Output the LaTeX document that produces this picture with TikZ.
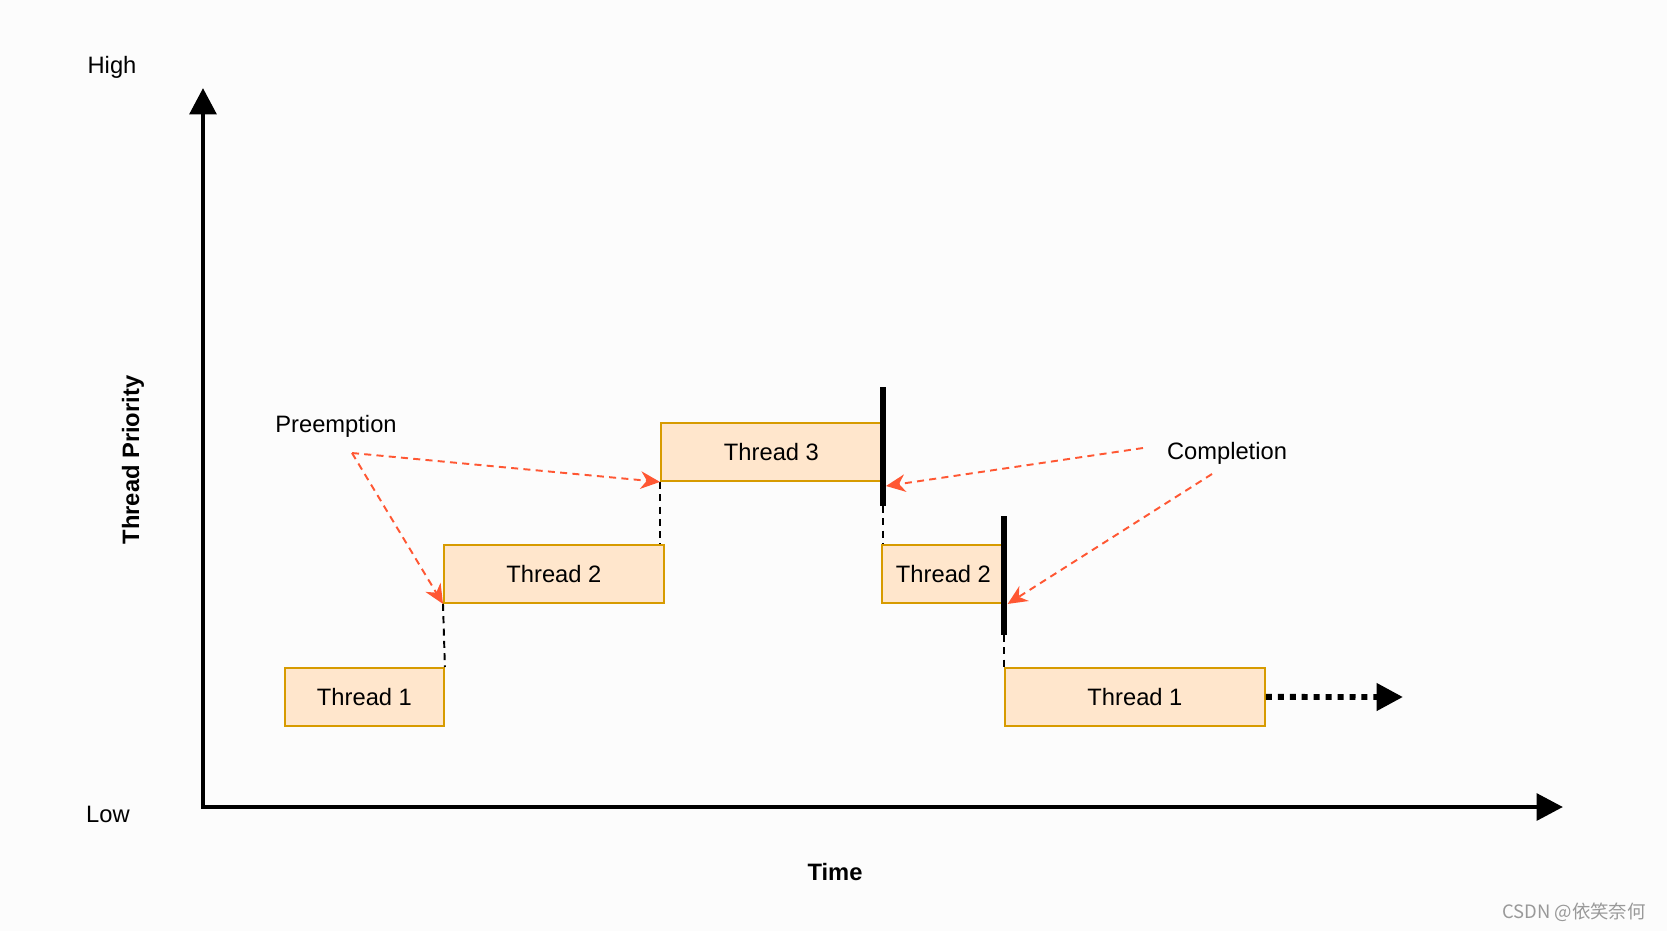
\documentclass[tikz,border=0pt]{standalone}
\usepackage{fontspec}
\setmainfont{Liberation Sans}
\newfontfamily\cjkfont{Noto Sans CJK SC}
\usetikzlibrary{ arrows.meta, calc, positioning }
\definecolor{boxfill}{HTML}{FFE6CC}
\definecolor{boxline}{HTML}{D79B00}
\definecolor{hintred}{HTML}{FF5733}
\definecolor{paper}{HTML}{FCFCFC}
\tikzset{
every node/.style={font=\fontsize{13.5}{16}\selectfont}, % same text size everywhere
thread/.style={draw=boxline, fill=boxfill, line width=1.1pt, minimum height=1.16cm, anchor=north west}, % one run of a thread
axis/.style={line width=2.8pt, line cap=rect, -{Triangle[length=15pt,width=15pt]}}, % bold axes
bar/.style={line width=3.4pt}, % end of a run
switch/.style={line width=1.1pt, dash pattern=on 4pt off 3pt}, % thread switch
hint/.style={hintred, line width=1.1pt, dash pattern=on 4pt off 3pt, -{Stealth[length=11pt,width=10pt,inset=3.5pt]}}, % red callouts
}

\begin{document}
\begin{tikzpicture}[x=0.02cm, y=-0.02cm]% one unit is one pixel
  \fill[paper] (0,0) rectangle (1667,931);
  \useasboundingbox (0,0) rectangle (1667,931);

  % axes
  \coordinate (origin) at (203,807);
  \coordinate (ytop) at (203,88);
  \coordinate (xend) at (1563,807);
  \draw[axis] (origin) -- (ytop);
  \draw[axis] (origin) -- (xend);
  \node (high) at (112,67) {High};
  \node (low) at (108,814) {Low};
  \node[rotate=90, font=\fontsize{13.5}{16}\selectfont\bfseries] (prio) at (133,460) {Thread Priority};
  \node[font=\fontsize{13.5}{16}\selectfont\bfseries] (time) at (835,872) {Time};

  % runs
  \node[thread, minimum width=3.18cm] (t1a) at (284,667) {Thread 1};
  \node[thread, minimum width=4.40cm] (t2a) at (443,544) {Thread 2};
  \node[thread, minimum width=4.42cm] (t3) at (660,422) {Thread 3};
  \node[thread, minimum width=2.46cm] (t2b) at (881,544) {Thread 2};
  \node[thread, minimum width=5.20cm] (t1b) at (1004,667) {Thread 1};

  % ends of runs
  \coordinate (bar1top) at (883,387);
  \coordinate (bar1bot) at (883,506);
  \coordinate (bar2top) at (1004,516);
  \coordinate (bar2bot) at (1004,635);
  \draw[bar] (bar1top) -- (bar1bot);
  \draw[bar] (bar2top) -- (bar2bot);

  \draw[switch] (t2a.south west) -- (t1a.north east);
  \draw[switch] (t3.south west) -- (t3.south west |- t2a.north);
  \draw[switch] (bar1bot) -- (bar1bot |- t2b.north);
  \draw[switch] (bar2bot) -- (bar2bot |- t1b.north);

  % goes on
  \coordinate (more) at (1403,697);
  \draw[line width=3.4pt, dash pattern=on 3.4pt off 3.4pt, -{Triangle[length=15pt,width=15pt]}] (t1b.east) -- (more);

  % callouts
  \node (pre) at (336,426) {Preemption};
  \node (comp) at (1227,453) {Completion};
  \coordinate (preo) at (352,453);
  \coordinate (compa) at (1143,448);
  \coordinate (compb) at (1212,474);
  \coordinate (bar1hit) at (886,486);

  \path[hint]
  (preo) edge (t2a.south west)
         edge (t3.south west)
  (compa) edge (bar1hit)
  (compb) edge ([xshift=1pt]t2b.south east);

  \node[anchor=east, text=black!40, font=\cjkfont\fontsize{10.5}{12}\selectfont] (mark) at (1652,912) {CSDN @依笑奈何};
\end{tikzpicture}
\end{document}
